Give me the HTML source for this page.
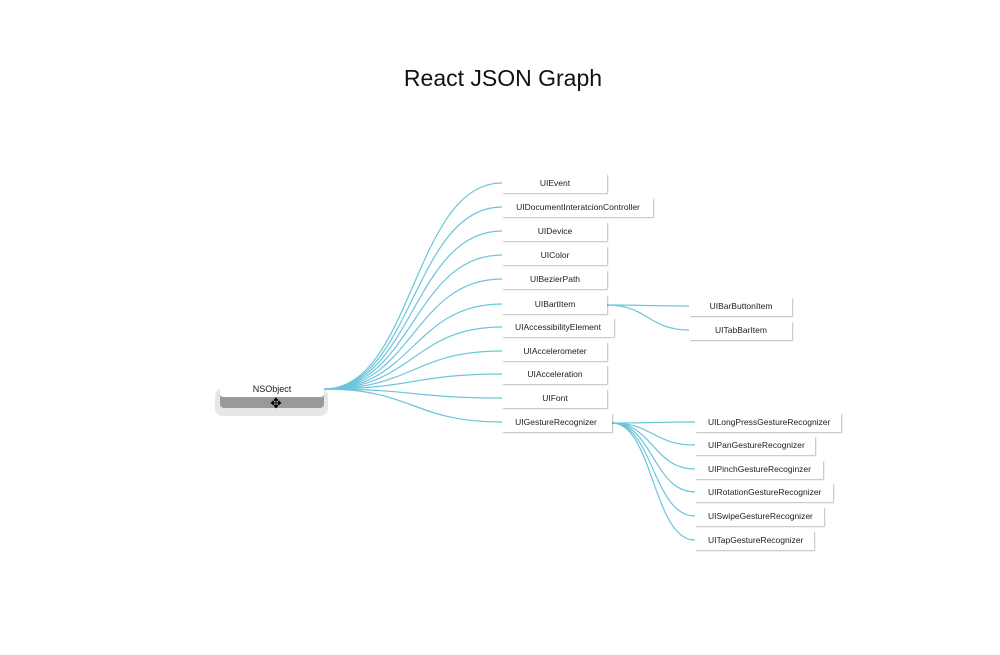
<!DOCTYPE html>
<html><head><meta charset="utf-8"><style>
body{margin:0;background:#fff;}
svg text{font-family:"Liberation Sans",Arial,sans-serif;}
</style></head><body>
<svg width="1000" height="650" viewBox="0 0 1000 650" xmlns="http://www.w3.org/2000/svg">
<defs>
<filter id="sh" x="-10%" y="-20%" width="130%" height="160%">
<feDropShadow dx="1" dy="1" stdDeviation="0.6" flood-color="#000" flood-opacity="0.25"/>
</filter>
</defs>
<rect width="1000" height="650" fill="#fff"/>
<text x="503" y="86" font-size="23" text-anchor="middle" fill="#111">React JSON Graph</text>
<g fill="none" stroke="#6cc5dc" stroke-width="1.2">
<path d="M324 389 C413 389 413 183 502 183"/>
<path d="M324 389 C413 389 413 207 502 207"/>
<path d="M324 389 C413 389 413 231 502 231"/>
<path d="M324 389 C413 389 413 255 502 255"/>
<path d="M324 389 C413 389 413 279 502 279"/>
<path d="M324 389 C413 389 413 304 502 304"/>
<path d="M324 389 C413 389 413 327 502 327"/>
<path d="M324 389 C413 389 413 351 502 351"/>
<path d="M324 389 C413 389 413 374 502 374"/>
<path d="M324 389 C413 389 413 398 502 398"/>
<path d="M324 389 C413 389 413 422 502 422"/>
<path d="M607 305 C648 305 648 306 689 306"/>
<path d="M607 305 C648 305 648 330 689 330"/>
<path d="M612 423 C653 423 653 422 695 422"/>
<path d="M612 423 C653 423 653 445 695 445"/>
<path d="M612 423 C653 423 653 469 695 469"/>
<path d="M612 423 C653 423 653 492 695 492"/>
<path d="M612 423 C653 423 653 516 695 516"/>
<path d="M612 423 C653 423 653 540 695 540"/>
</g>
<rect x="215" y="388" width="113" height="28" rx="8" fill="#e6e6e6"/>
<rect x="220" y="392" width="104" height="16" rx="4" fill="#999"/>
<rect x="220" y="379" width="104" height="18" rx="3" fill="#fff"/>
<text x="272" y="392" font-size="9" text-anchor="middle" fill="#222">NSObject</text>
<text x="276" y="408" font-size="14" text-anchor="middle" fill="#000">✥</text>
<g font-size="8.5" fill="#222">
<g fill="#fff" filter="url(#sh)">
<rect x="502" y="174" width="105" height="19"/>
<rect x="502" y="198" width="151" height="19"/>
<rect x="502" y="222" width="105" height="19"/>
<rect x="502" y="246" width="105" height="19"/>
<rect x="502" y="270" width="105" height="19"/>
<rect x="502" y="295" width="105" height="19"/>
<rect x="502" y="318" width="112" height="19"/>
<rect x="502" y="342" width="105" height="19"/>
<rect x="502" y="365" width="105" height="19"/>
<rect x="502" y="389" width="105" height="19"/>
<rect x="502" y="413" width="110" height="19"/>
<rect x="689" y="297" width="103" height="19"/>
<rect x="689" y="321" width="103" height="19"/>
<rect x="695" y="413" width="146" height="19"/>
<rect x="695" y="436" width="120" height="19"/>
<rect x="695" y="460" width="128" height="19"/>
<rect x="695" y="483" width="138" height="19"/>
<rect x="695" y="507" width="129" height="19"/>
<rect x="695" y="531" width="119" height="19"/>
</g>
<g text-anchor="middle">
<text x="555" y="186">UIEvent</text>
<text x="578" y="210">UIDocumentInteratcionController</text>
<text x="555" y="234">UIDevice</text>
<text x="555" y="258">UIColor</text>
<text x="555" y="282">UIBezierPath</text>
<text x="555" y="307">UIBartItem</text>
<text x="558" y="330">UIAccessibilityElement</text>
<text x="555" y="354">UIAccelerometer</text>
<text x="555" y="377">UIAcceleration</text>
<text x="555" y="401">UIFont</text>
<text x="556" y="425">UIGestureRecognizer</text>
<text x="741" y="309">UIBarButtonItem</text>
<text x="741" y="333">UITabBarItem</text>
</g>
<text x="708" y="425">UILongPressGestureRecognizer</text>
<text x="708" y="448">UIPanGestureRecognizer</text>
<text x="708" y="472">UIPinchGestureRecoginzer</text>
<text x="708" y="495">UIRotationGestureRecognizer</text>
<text x="708" y="519">UISwipeGestureRecognizer</text>
<text x="708" y="543">UITapGestureRecognizer</text>
</g>
</svg>
</body></html>
